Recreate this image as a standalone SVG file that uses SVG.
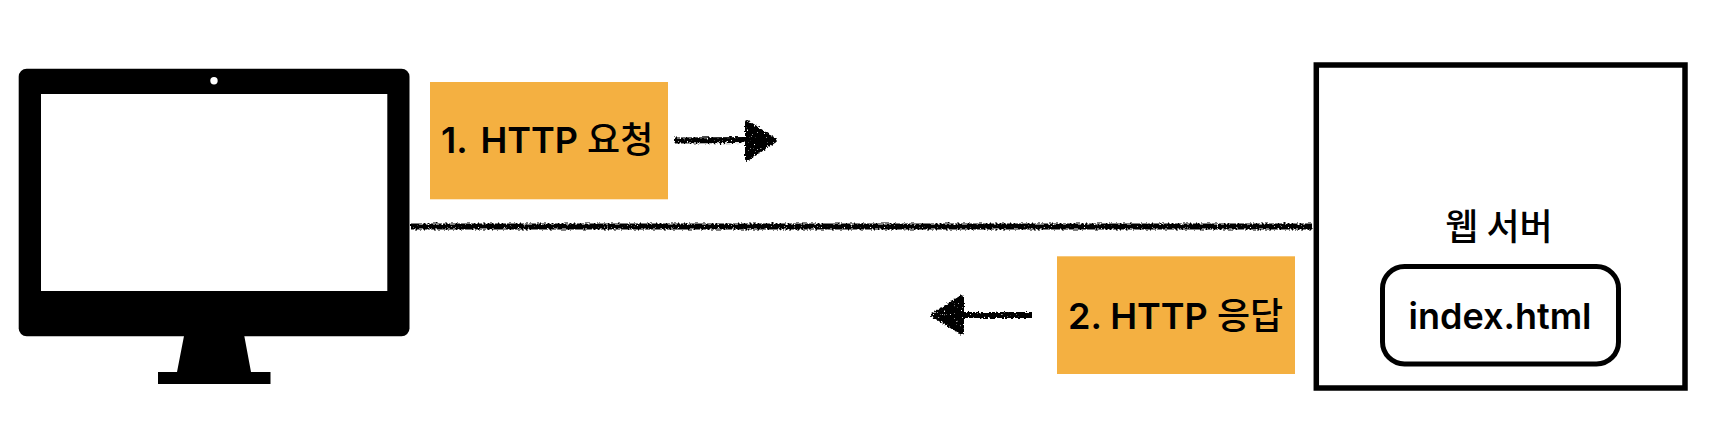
<svg xmlns="http://www.w3.org/2000/svg" width="1710" height="430" viewBox="0 0 1710 430">
<style>
.lbl{fill:#f4b041}
.t{font-family:Inter,"Liberation Sans","Noto Sans CJK KR",sans-serif;font-weight:600;fill:#000}
.k{font-family:"Noto Sans CJK KR","Liberation Sans",sans-serif;font-weight:500;fill:#000}
.rough{filter:url(#rough)}
.ln{stroke:#000;stroke-width:6;fill:none}
.hd{fill:#000;stroke:#000;stroke-width:4;stroke-linejoin:round}
</style>
<defs>
<filter id="rough" x="0" y="0" width="1710" height="430" filterUnits="userSpaceOnUse" primitiveUnits="userSpaceOnUse">
<feTurbulence type="fractalNoise" baseFrequency="0.5" numOctaves="2" seed="4" result="n"/>
<feDisplacementMap in="SourceGraphic" in2="n" scale="5" xChannelSelector="R" yChannelSelector="G" result="d"/>
<feTurbulence type="fractalNoise" baseFrequency="0.7" numOctaves="1" seed="9"/>
<feColorMatrix type="matrix" values="0 0 0 0 0 0 0 0 0 0 0 0 0 0 0 0 0 0 -14 10.500" result="holes"/>
<feComposite in="d" in2="holes" operator="in"/>
</filter>
</defs>
<rect width="1710" height="430" fill="#fff"/>
<g id="connectors">
<g class="rough"><path class="ln" d="M411 226.500H1312"/></g>
<g class="rough"><path class="ln" d="M674 140.500L748 140"/><path class="hd" d="M747 122L775 140.500L747 159Z"/></g>
<g class="rough"><path class="ln" d="M1032 315H962"/><path class="hd" d="M962 297L933 315L962 333Z"/></g>
</g>
<g id="client">
<rect x="18.700" y="68.700" width="390.800" height="267.600" rx="8" fill="#000"/>
<rect x="41" y="94" width="346.300" height="197" fill="#fff"/>
<circle cx="214" cy="80.700" r="3.700" fill="#fff"/>
<path d="M184 336H244.300L251 372H270.500V384H158V372H177Z" fill="#000"/>
</g>
<g id="request-label">
<rect class="lbl" x="430" y="82" width="238" height="117.300"/>
<text class="t" x="441" y="153.300" font-size="36">1. <tspan dx="4.400">HTTP</tspan> <tspan class="k" font-size="36">요청</tspan></text>
</g>
<g id="response-label">
<rect class="lbl" x="1057" y="256.300" width="238" height="117.700"/>
<text class="t" x="1068" y="328.700" font-size="36">2. HTTP <tspan class="k" font-size="36">응답</tspan></text>
</g>
<g id="web-server">
<rect x="1316.300" y="65" width="368.700" height="323" fill="#fff" stroke="#000" stroke-width="5.500"/>
<text class="k" x="1499" y="240" font-size="36" text-anchor="middle">웹 서버</text>
</g>
<g id="index-html">
<rect x="1382.500" y="266.500" width="236" height="97.500" rx="22" fill="#fff" stroke="#000" stroke-width="5"/>
<text class="t" x="1500" y="329.300" font-size="36" text-anchor="middle">index.html</text>
</g>
</svg>
